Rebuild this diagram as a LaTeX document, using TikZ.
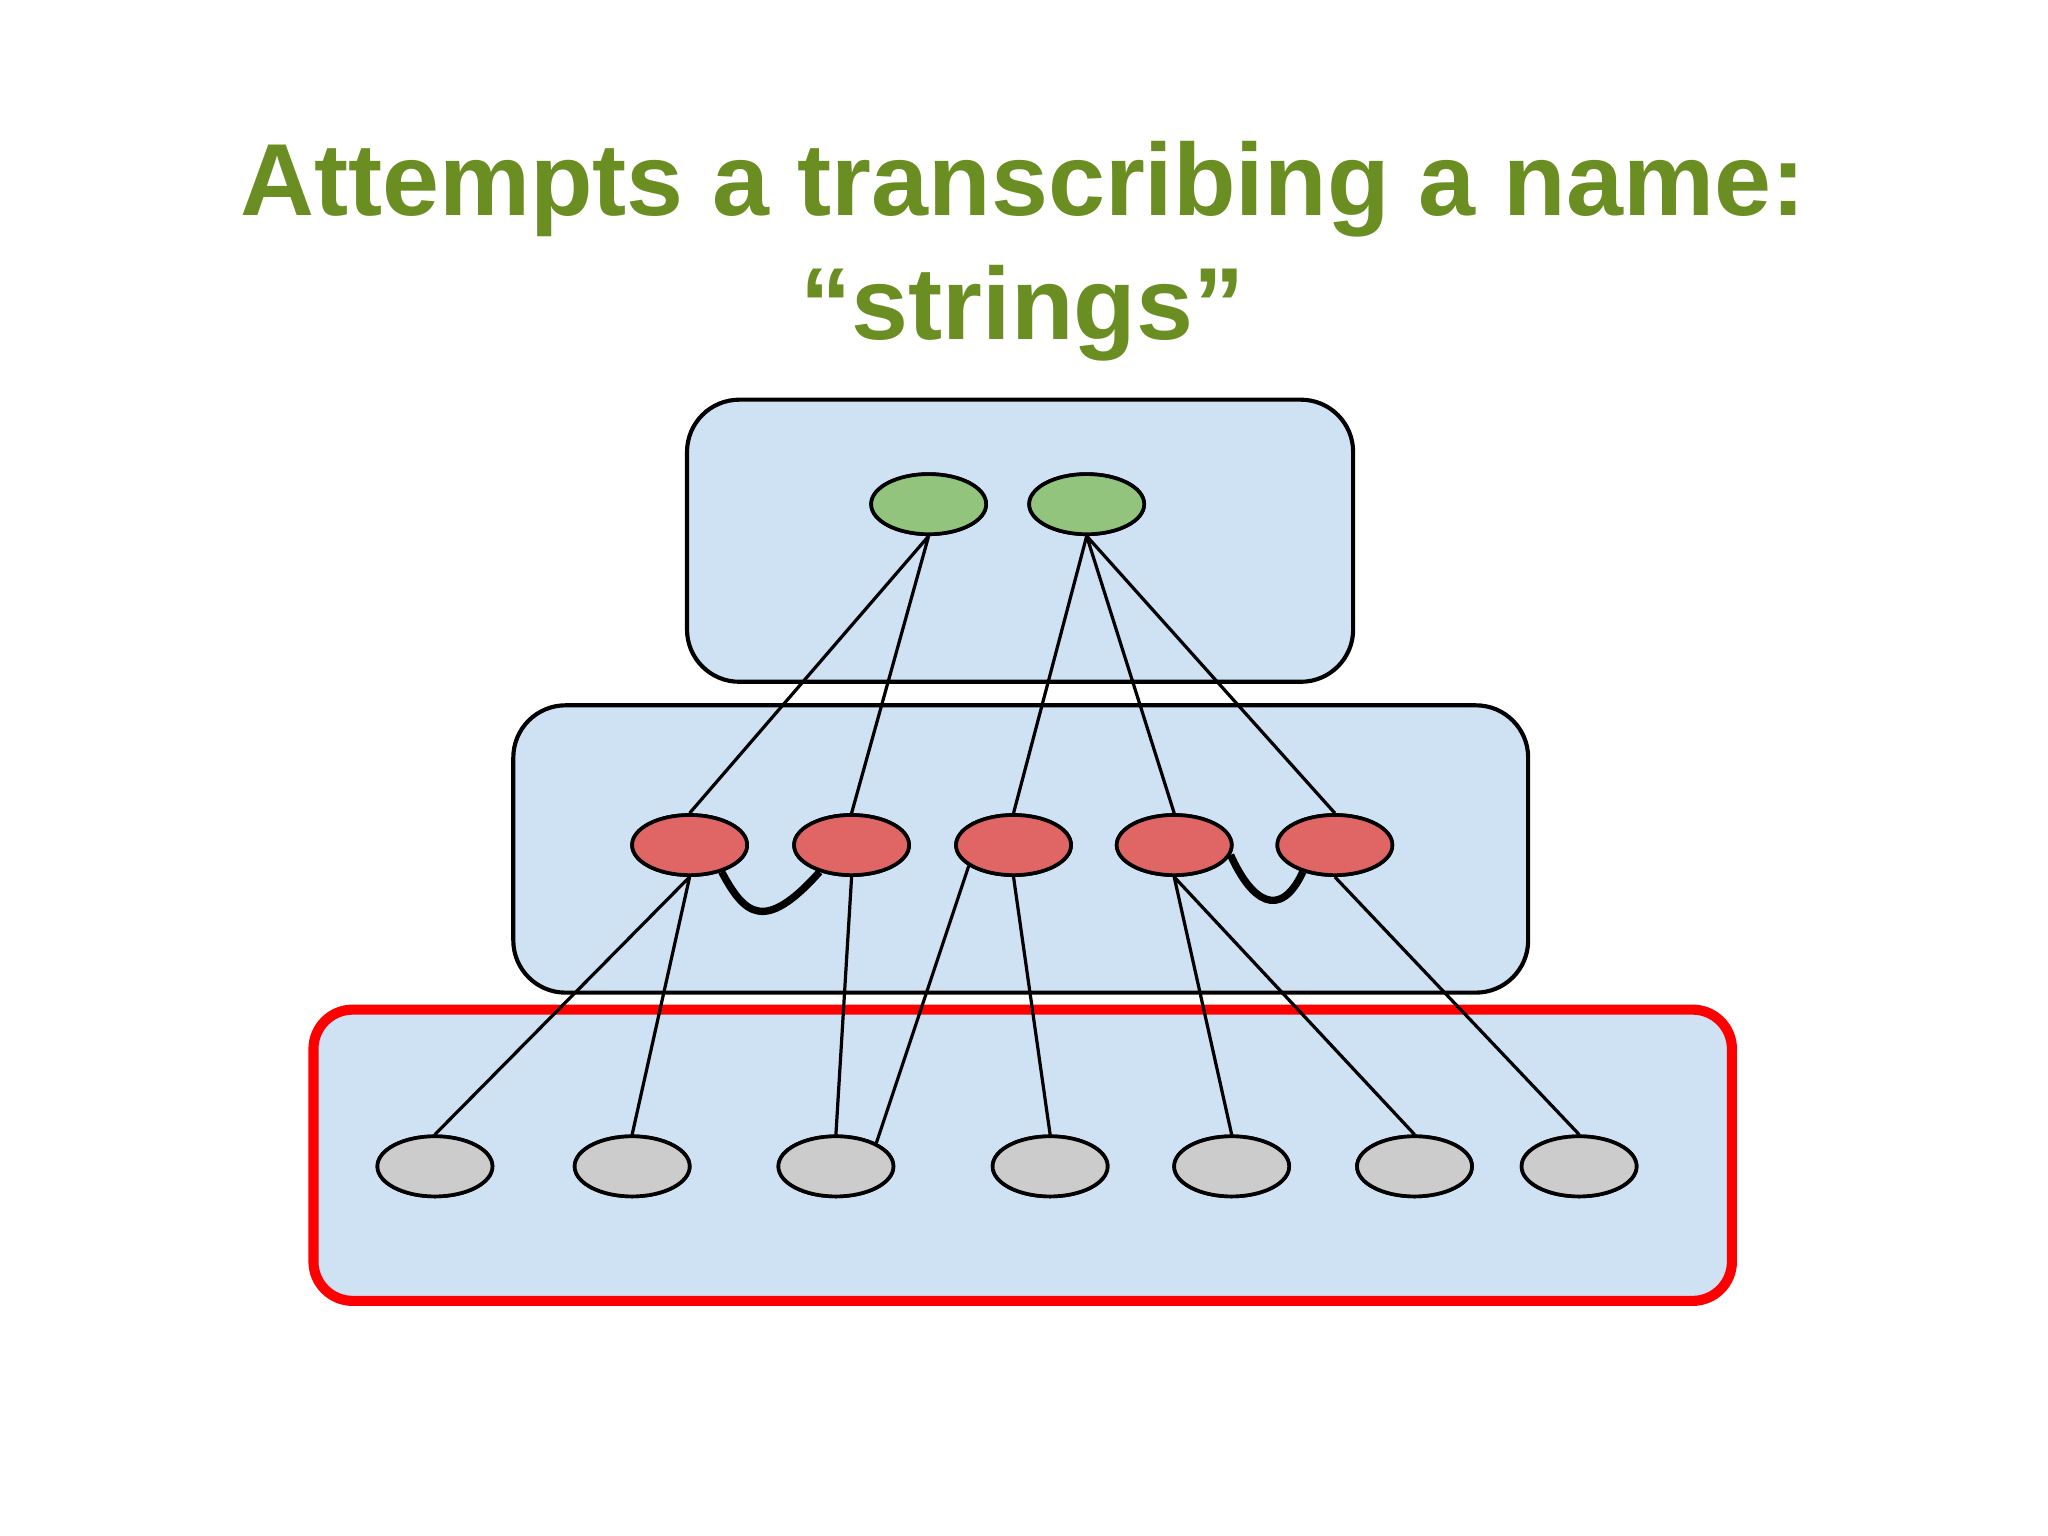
\documentclass[tikz,border=0pt]{standalone}
\usepackage{fontspec}
\setmainfont{Liberation Sans}
\usetikzlibrary{shapes.geometric}
\definecolor{boxblue}{HTML}{CFE2F3}
\definecolor{tgreen}{HTML}{6B8E23}
\definecolor{ngreen}{HTML}{93C47D}
\definecolor{nred}{HTML}{E06666}
\definecolor{ngray}{HTML}{CCCCCC}
\tikzset{
  layer/.style={draw=black, line width=0.9pt, fill=boxblue, rounded corners=0.4cm},
  nd/.style={ellipse, draw=black, line width=0.8pt, minimum width=0.88cm, minimum height=0.46cm, inner sep=0pt},
  gn/.style={nd, fill=ngreen},
  rn/.style={nd, fill=nred},
  yn/.style={nd, fill=ngray},
  edge/.style={draw=black, line width=0.7pt},
  wig/.style={draw=black, line width=1.6pt}
}
\begin{document}
\begin{tikzpicture}[x=0.01cm,y=-0.01cm]
\useasboundingbox (0,0) rectangle (1568,1176);
\node[font=\fontsize{22.3}{27}\selectfont\bfseries, text=tgreen, align=center] (title) at (783,192) {Attempts a transcribing a name:\\“strings”};
\draw[layer] (526,306) rectangle (1036,522);
\draw[layer] (393,540) rectangle (1170,760);
\draw[layer, draw=red, line width=2.2pt, rounded corners=0.3cm] (240,773) rectangle (1326,996);
\node[gn] (g1) at (711,386) {};
\node[gn] (g2) at (832,386) {};
\foreach \i/\x in {1/528,2/652,3/776,4/899,5/1022} \node[rn] (r\i) at (\x,647) {};
\foreach \i/\x in {1/333,2/484,3/640,4/804,5/943,6/1083,7/1209} \node[yn] (y\i) at (\x,893) {};
\path[edge] (g1.south) -- (r1.north) (g1.south) -- (r2.north)
  (g2.south) -- (r3.north) (g2.south) -- (r4.north) (g2.south) -- (r5.north)
  (r1.south) -- (y1.north) (r1.south) -- (y2.north)
  (r2.south) -- (y3.north) (r3.205) -- (y3.30) (r3.south) -- (y4.north)
  (r4.south) -- (y5.north) (r4.south) -- (y6.north) (r5.south) -- (y7.north);
\draw[wig] (r1.-40) .. controls (570,700) and (585,715) .. (r2.220);
\draw[wig] (r4.-10) .. controls (958,690) and (980,705) .. (r5.220);
\node[gn] at (g1) {};\node[gn] at (g2) {};
\foreach \i in {1,...,5} \node[rn] at (r\i) {};
\foreach \i in {1,...,7} \node[yn] at (y\i) {};
\end{tikzpicture}
\end{document}
